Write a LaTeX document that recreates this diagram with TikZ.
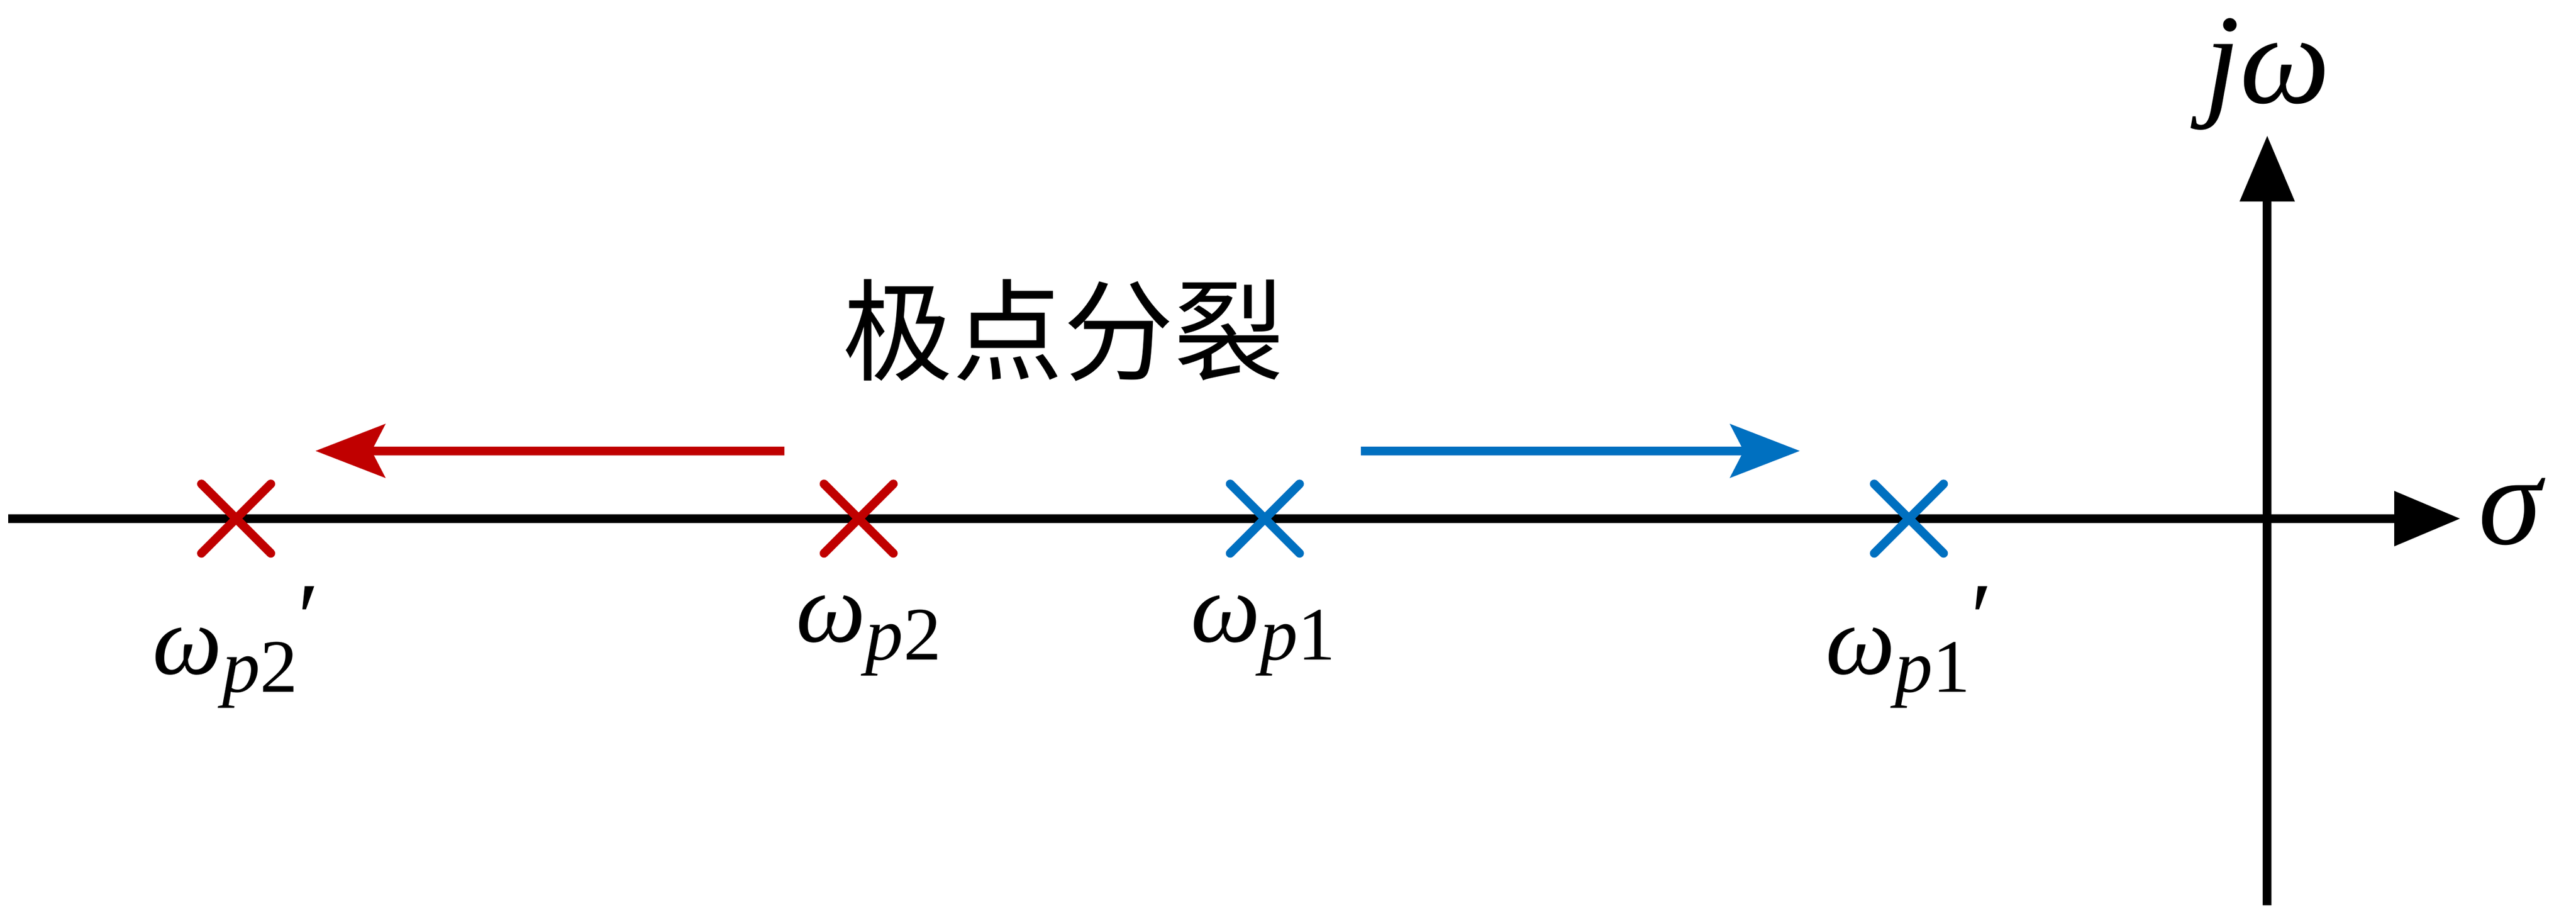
\documentclass[tikz,border=0pt]{standalone}
\usepackage{fontspec}
\setmainfont{Liberation Serif}
\newfontfamily\cjk{Noto Sans CJK SC}
\usetikzlibrary{arrows.meta}
\definecolor{pred}{RGB}{192,0,0}
\definecolor{pblue}{RGB}{0,112,192}
\begin{document}
\begin{tikzpicture}[x=0.01cm,y=-0.01cm,
  ax/.style={line width=1.5pt,-{Triangle[length=0.4cm,width=0.32cm]}},
  mv/.style={line width=1.5pt,-{Stealth[length=0.42cm,width=0.32cm,inset=0.08cm]}},
  pole/.style={line width=1.5pt,line cap=round},
  lab/.style={font=\fontsize{17}{19}\selectfont, inner sep=0pt}]
\useasboundingbox (0,0) rectangle (1560,549.7);
\coordinate (L) at (5,314); \coordinate (R) at (1490,314);
\coordinate (B) at (1373,548); \coordinate (T) at (1373,82);
\draw[ax] (L) -- (R);
\draw[ax] (B) -- (T);
\node[lab,font=\fontsize{22}{24}\selectfont\itshape] (sig) at (1520,310) {σ};
\node[lab,font=\fontsize{22}{24}\selectfont\itshape] (jw) at (1373,45) {jω};
\foreach \n/\x/\c in {a/143/pred,b/520/pred,c/766/pblue,d/1156/pblue}{
  \coordinate (\n) at (\x,314);
  \draw[pole,\c] ([shift={(-21,-21)}]\n) -- ([shift={(21,21)}]\n);
  \draw[pole,\c] ([shift={(-21,21)}]\n) -- ([shift={(21,-21)}]\n);
}
\node[lab] (la) at (143,392) {\textit{ω}\raisebox{-0.4ex}{\fontsize{13}{15}\selectfont\textit{p}2}\raisebox{0.5ex}{′}};
\node[lab] (lb) at (526,385) {\textit{ω}\raisebox{-0.4ex}{\fontsize{13}{15}\selectfont\textit{p}2}};
\node[lab] (lc) at (765,385) {\textit{ω}\raisebox{-0.4ex}{\fontsize{13}{15}\selectfont\textit{p}1}};
\node[lab] (ld) at (1156,392) {\textit{ω}\raisebox{-0.4ex}{\fontsize{13}{15}\selectfont\textit{p}1}\raisebox{0.5ex}{′}};
\coordinate (r1) at (475,273); \coordinate (r2) at (191,273);
\coordinate (b1) at (824,273); \coordinate (b2) at (1090,273);
\draw[mv,pred] (r1) -- (r2);
\draw[mv,pblue] (b1) -- (b2);
\node[lab,font=\cjk\fontsize{19}{21}\selectfont] (t) at (644,200) {极点分裂};
\end{tikzpicture}
\end{document}
